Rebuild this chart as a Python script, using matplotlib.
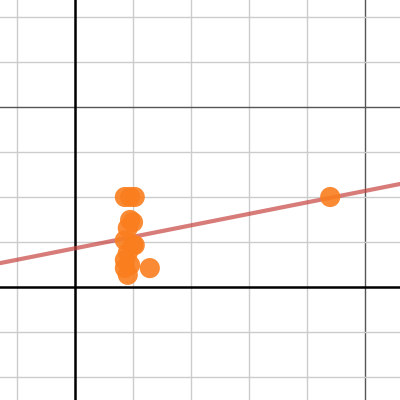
import matplotlib
matplotlib.use("Agg")
import matplotlib.pyplot as plt
import numpy as np

xs = [0.86, 1.03, 0.95, 0.95, 0.91, 1.0, 0.86, 1.0, 0.91, 1.03, 0.86, 0.95, 0.86, 0.91, 1.29, 4.4]
ys = [2.0, 2.0, 2.0, 1.49, 1.31, 1.44, 1.04, 0.93, 0.76, 0.93, 0.6, 0.49, 0.42, 0.27, 0.42, 2.0]
slope = 0.255
intercept = 0.86

fig = plt.figure(figsize=(4, 4), dpi=100)
ax = fig.add_axes([0, 0, 1, 1])
xmin, xmax = -75/58, 325/58
ymin, ymax = -113/45, 287/45
ax.set_xlim(xmin, xmax); ax.set_ylim(ymin, ymax)
for gx in range(-1, 6):
    if gx == 0: continue
    ax.axvline(gx, color='#555' if gx % 5 == 0 else '#ccc', lw=1, zorder=0)
for gy in range(-2, 7):
    if gy == 0: continue
    ax.axhline(gy, color='#555' if gy % 4 == 0 else '#ccc', lw=1, zorder=0)
ax.axvline(0, color='black', lw=1.8, zorder=1)
ax.axhline(0, color='black', lw=1.8, zorder=1)
lx = np.array([xmin, xmax])
ax.plot(lx, slope*lx + intercept, color='#c74440', alpha=0.7, lw=3, zorder=2)
ax.scatter(xs, ys, s=210, color='#fa7e1e', alpha=0.9, edgecolors='none', zorder=3)
ax.axis('off')
fig.savefig('out.png', dpi=100)
